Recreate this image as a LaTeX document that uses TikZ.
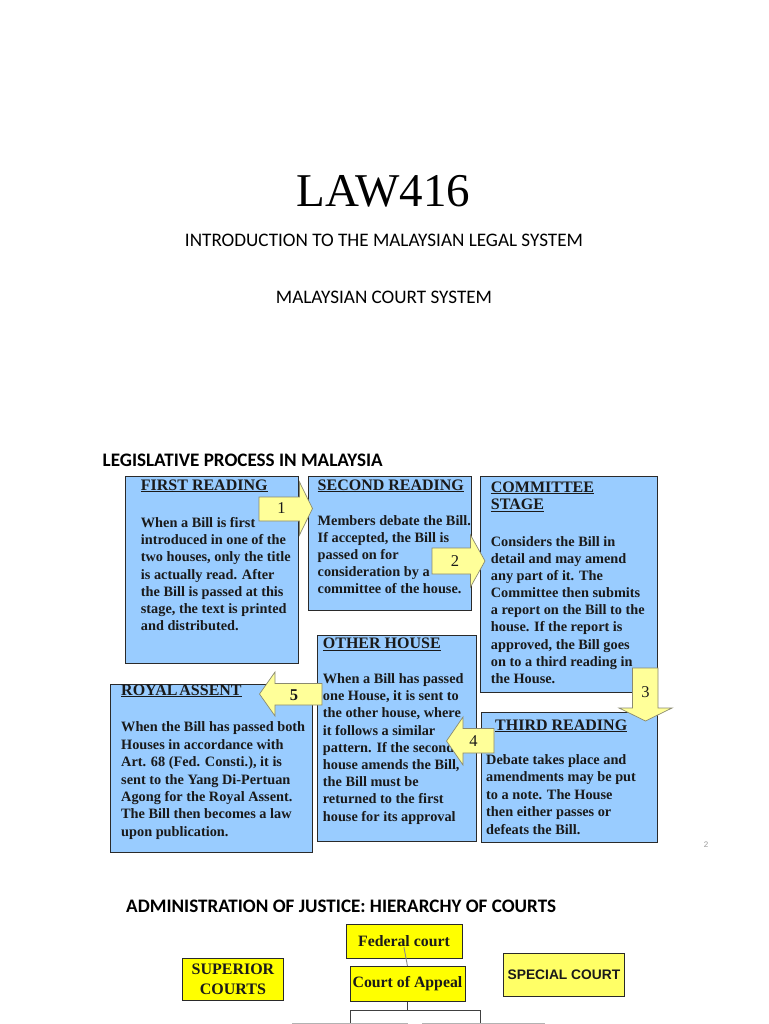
\documentclass[tikz,border=0pt]{standalone}
\usepackage{fontspec}
\setmainfont{Liberation Serif}
\newfontfamily\calfont{Carlito}
\newfontfamily\arialfont{Liberation Sans}
\definecolor{lblue}{HTML}{99CCFF}
\definecolor{arrfill}{HTML}{FFFF99}
\definecolor{courtfill}{HTML}{FFFF00}
\definecolor{specfill}{HTML}{FFFF66}
\definecolor{boxline}{HTML}{2A2A2A}
\definecolor{arrline}{HTML}{8A8A70}
\definecolor{txt}{HTML}{1A1A1A}
\begin{document}
\begin{tikzpicture}[x=1pt,y=-1pt,
  bluebox/.style={draw=boxline, fill=lblue, line width=0.9pt, inner sep=0, anchor=north west},
  ybox/.style={draw=boxline, fill=courtfill, line width=0.9pt, inner sep=0, anchor=north west},
  bodytxt/.style={anchor=north west, align=left, inner sep=0, text=txt, font=\bfseries\fontsize{14.3}{17.25}\selectfont},
  ttl/.style={anchor=base west, inner sep=0, text=txt, font=\bfseries\fontsize{16}{17.6}\selectfont},
  yarrow/.style={draw=arrline, fill=arrfill, line width=0.7pt, line join=miter},
  numtxt/.style={inner sep=0, text=txt, font=\fontsize{16.5}{18}\selectfont},
  conn/.style={draw=black!75, line width=0.9pt},
  courttxt/.style={inner sep=0, text=txt, font=\bfseries\fontsize{15.8}{19}\selectfont, align=center}
]
\useasboundingbox (0,0) rectangle (768,1024);
\begin{scope}
\clip (0,0) rectangle (768,1024);
\fill[white] (0,0) rectangle (768,1024);

% Title slide
\node[anchor=base, inner sep=0, font=\fontsize{47}{52}\selectfont] (law) at (383.5,207) {LAW416};
\node[anchor=base, inner sep=0, font=\calfont\fontsize{19.15}{22}\selectfont] (intro) at (384,246) {INTRODUCTION TO THE MALAYSIAN LEGAL SYSTEM};
\node[anchor=base, inner sep=0, font=\calfont\fontsize{19.15}{22}\selectfont] (mcs) at (384,303) {MALAYSIAN COURT SYSTEM};

% Legislative process
\node[anchor=base west, inner sep=0, font=\calfont\bfseries\fontsize{19.1}{22}\selectfont] (lp) at (102.5,466) {LEGISLATIVE PROCESS IN MALAYSIA};

\node[bluebox, minimum width=173pt, minimum height=187pt] (first) at (125,476) {};
\node[bluebox, minimum width=163pt, minimum height=134pt] (second) at (307.5,476) {};
\node[bluebox, minimum width=177pt, minimum height=216pt] (committee) at (480,476) {};
\node[bluebox, minimum width=201.5pt, minimum height=168pt] (royal) at (110,683.5) {};
\node[bluebox, minimum width=159pt, minimum height=206pt] (other) at (316.7,635) {};
\node[bluebox, minimum width=176.5pt, minimum height=130pt] (third) at (480.7,711.7) {};

\node[ttl] (firstT) at (140.7,490) {\underline{FIRST READING}};
\node[bodytxt] (firstB) at (140.7,515.2) {\strut When a Bill is first\\introduced in one of the\\two houses, only the title\\is actually read. After\\the Bill is passed at this\\stage, the text is printed\\and distributed.};

\node[ttl] (secondT) at (317.5,490) {\underline{SECOND READING}};
\node[bodytxt, font=\bfseries\fontsize{14.3}{17.1}\selectfont] (secondB) at (317.5,512.9) {\strut Members debate the Bill.\\If accepted, the Bill is\\passed on for\\consideration by a\\committee of the house.};

\node[bodytxt, font=\bfseries\fontsize{16}{17.6}\selectfont] (committeeT) at (490.7,479.6) {\strut\underline{COMMITTEE}\\\underline{STAGE}};
\node[bodytxt, font=\bfseries\fontsize{14.3}{17.16}\selectfont] (committeeB) at (490.7,533.9) {\strut Considers the Bill in\\detail and may amend\\any part of it. The\\Committee then submits\\a report on the Bill to the\\house. If the report is\\approved, the Bill goes\\on to a third reading in\\the House.};

\node[ttl] (royalT) at (121,695) {\underline{ROYAL\hspace{0.12em}ASSENT}};
\node[bodytxt, font=\bfseries\fontsize{14.3}{17.4}\selectfont] (royalB) at (121,719.6) {\strut When the Bill has passed both\\Houses in accordance with\\Art. 68 (Fed. Consti.), it is\\sent to the Yang Di-Pertuan\\Agong for the Royal Assent.\\The Bill then becomes a law\\upon publication.};

\node[ttl] (otherT) at (322.7,648.3) {\underline{OTHER HOUSE}};
\node[bodytxt, font=\bfseries\fontsize{14.3}{17.2}\selectfont] (otherB) at (322.7,671.2) {\strut When a Bill has passed\\one House, it is sent to\\the other house, where\\it follows a similar\\pattern. If the second\\house amends the Bill,\\the Bill must be\\returned to the first\\house for its approval};

\node[ttl] (thirdT) at (495,730) {\underline{THIRD READING}};
\node[bodytxt, font=\bfseries\fontsize{14.3}{17.5}\selectfont] (thirdB) at (486,751.9) {\strut Debate takes place and\\amendments may be put\\to a note. The House\\then either passes or\\defeats the Bill.};

% Numbered arrows
\draw[yarrow] (259,497) -- (299.5,497) -- (299.5,482) -- (312.5,508.5) -- (299.5,535) -- (299.5,521) -- (259,521) -- cycle;
\node[numtxt] (n1) at (281.5,508.5) {1};
\draw[yarrow] (432,548) -- (470.5,548) -- (470.5,535) -- (485,561) -- (470.5,587) -- (470.5,574) -- (432,574) -- cycle;
\node[numtxt] (n2) at (455,561) {2};
\draw[yarrow] (632.5,668) -- (658,668) -- (658,708) -- (672,708) -- (645.5,721) -- (619,708) -- (632.5,708) -- cycle;
\node[numtxt] (n3) at (645.5,692.5) {3};
\draw[yarrow] (494,728.5) -- (463,728.5) -- (463,717) -- (446.5,741) -- (463,765) -- (463,753) -- (494,753) -- cycle;
\node[numtxt] (n4) at (473.5,741.5) {4};
\draw[yarrow] (322,683.5) -- (275,683.5) -- (275,672) -- (259.5,694) -- (275,716) -- (275,705) -- (322,705) -- cycle;
\node[numtxt, font=\bfseries\fontsize{16.5}{18}\selectfont] (n5) at (294,695) {5};

\node[inner sep=0, text=black!40, font=\arialfont\fontsize{8}{9}\selectfont] (pg) at (706,845) {2};

% Hierarchy of courts
\node[anchor=base west, inner sep=0, font=\calfont\bfseries\fontsize{19.1}{22}\selectfont] (aoj) at (126,912) {ADMINISTRATION OF JUSTICE: HIERARCHY OF COURTS};

\node[ybox, minimum width=116pt, minimum height=34pt] (fed) at (345.5,924) {};
\node[ybox, minimum width=115pt, minimum height=35pt] (coa) at (349.5,966) {};
\node[ybox, minimum width=101pt, minimum height=42pt] (sup) at (182,958) {};
\node[ybox, fill=specfill, minimum width=121pt, minimum height=43.5pt] (spec) at (503,952.5) {};

\node[courttxt] (fedT) at (fed.center) {Federal court};
\draw[conn, draw=black!45] (fedT.south) -- (coa.north);
\node[courttxt] (coaT) at (coa.center) {Court of Appeal};
\node[courttxt, font=\bfseries\fontsize{16}{19.5}\selectfont] (supT) at (sup.center) {SUPERIOR\\COURTS};
\node[courttxt, font=\arialfont\bfseries\fontsize{13.8}{16}\selectfont] (specT) at (spec.center) {SPECIAL COURT};

\coordinate (split) at (coa.south |- 0,1010);
\coordinate (bl) at (350.7,1010);
\coordinate (br) at (480,1010);
\coordinate (blEnd) at (350.7,1030);
\coordinate (brEnd) at (480,1030);
\draw[conn] (coa.south) -- (split);
\draw[conn] (blEnd) -- (bl) -- (br) -- (brEnd);

\coordinate (lowA1) at (292,1023);
\coordinate (lowA2) at (408,1023);
\coordinate (lowB1) at (422,1023);
\coordinate (lowB2) at (545,1023);
\draw[draw=black!30, line width=0.9pt] (lowA1) -- (lowA2);
\draw[draw=black!30, line width=0.9pt] (lowB1) -- (lowB2);
\end{scope}
\end{tikzpicture}
\end{document}
